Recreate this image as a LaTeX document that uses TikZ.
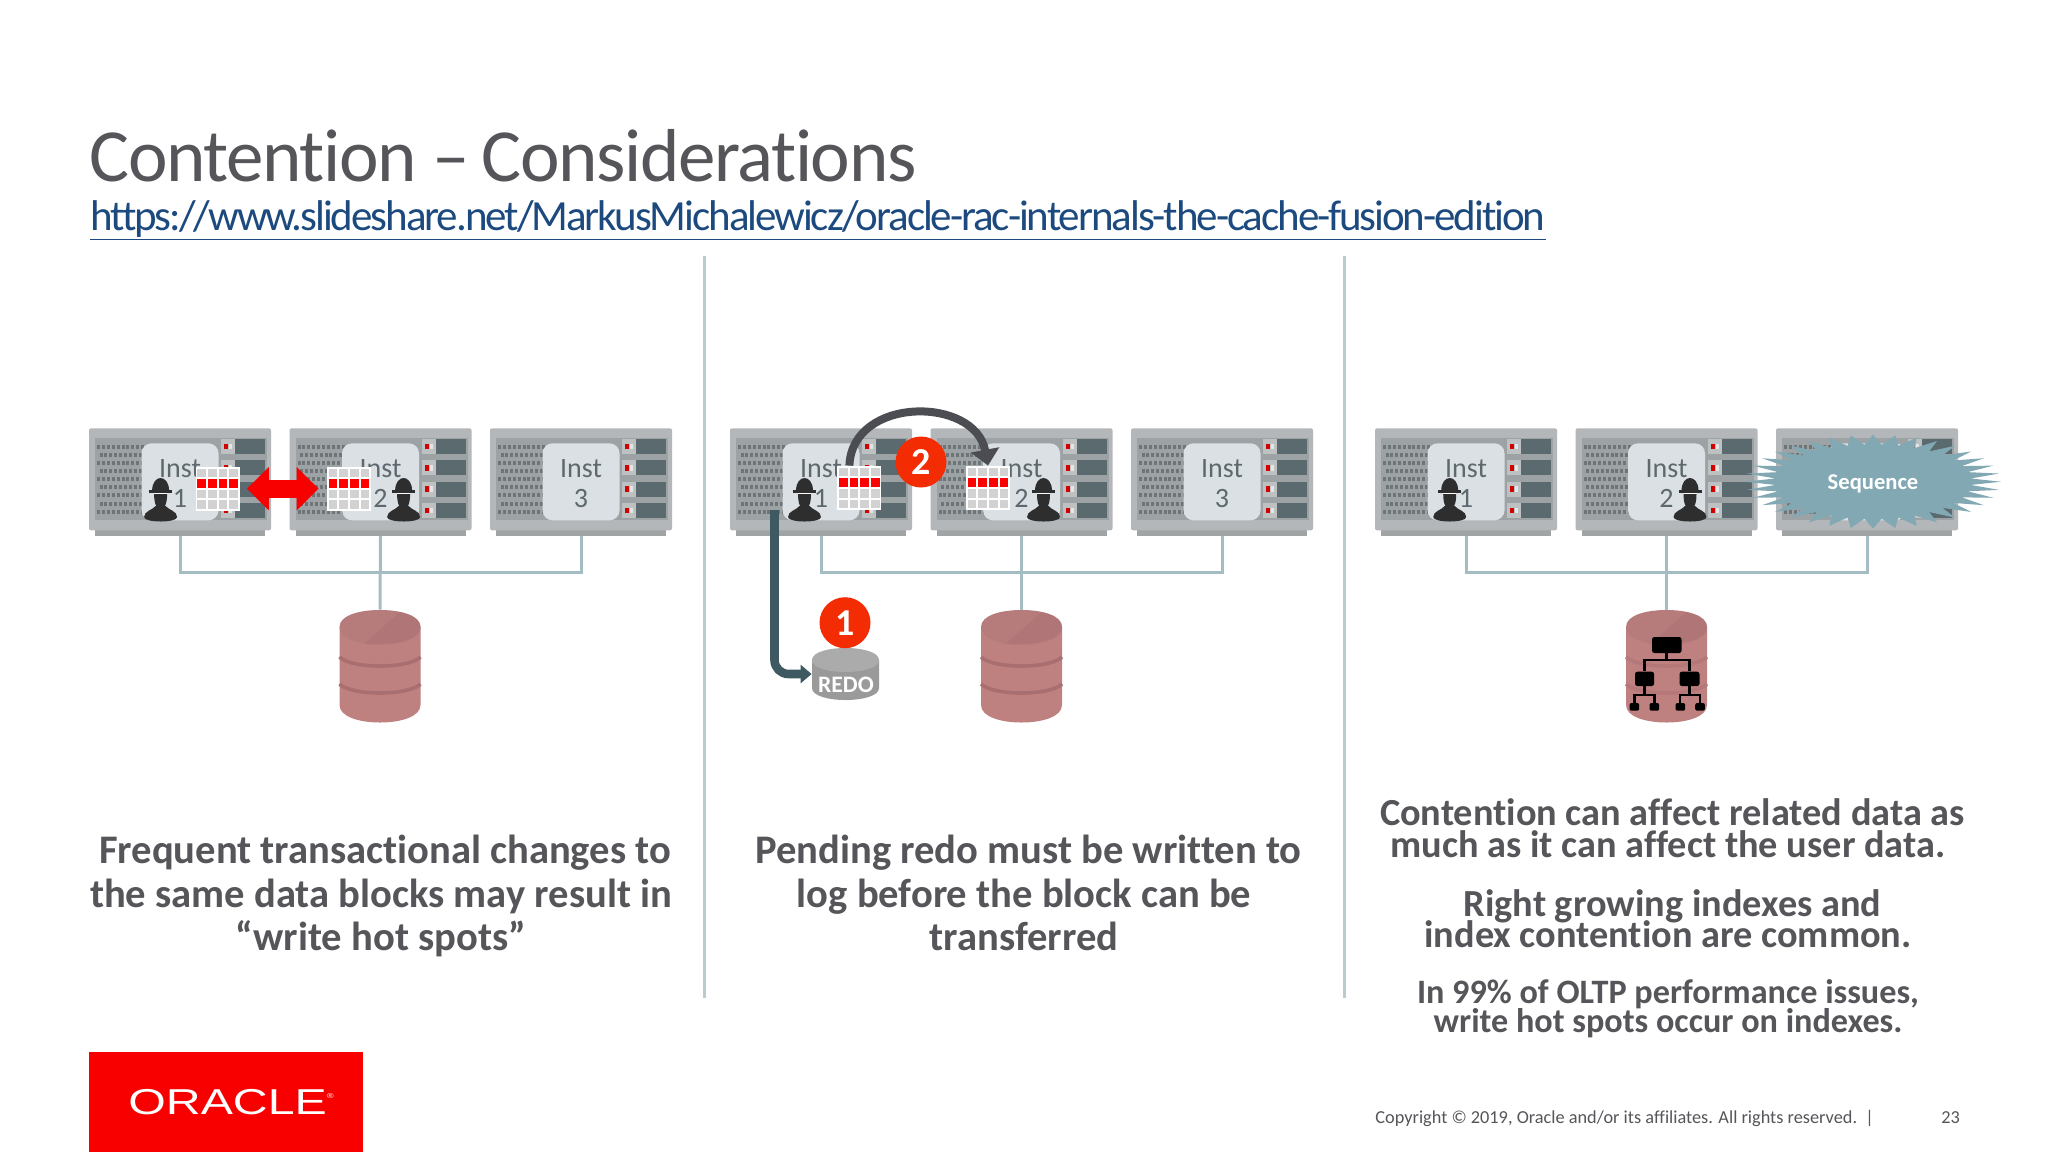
\documentclass[tikz,border=0pt]{standalone}
\usepackage{fontspec}
\setmainfont[Ligatures={TeX,NoCommon}]{Carlito}
\newfontfamily\titlefont[LetterSpace=-1.8,Ligatures=NoCommon]{Carlito}
\newfontfamily\linkfont[LetterSpace=-4.8,Ligatures=NoCommon]{Carlito}
\newfontfamily\logofont[FakeStretch=1.34]{Liberation Sans}
\usetikzlibrary{arrows.meta}
\definecolor{rackgray}{HTML}{B4B7B9}
\definecolor{rackfoot}{HTML}{A0A4A5}
\definecolor{rackinner}{HTML}{9DA2A4}
\definecolor{rackdot}{HTML}{6E7578}
\definecolor{slotlight}{HTML}{BDC1C2}
\definecolor{slotdark}{HTML}{5A6A6F}
\definecolor{instpanel}{HTML}{DAE0E4}
\definecolor{insttext}{HTML}{5E696E}
\definecolor{buscolor}{HTML}{A3BDC3}
\definecolor{dbbody}{HTML}{BF8080}
\definecolor{dbtop}{HTML}{B67B7B}
\definecolor{dbwedge}{HTML}{AC7475}
\definecolor{dbband}{HTML}{A96F70}
\definecolor{orared}{HTML}{F80000}
\definecolor{badgered}{HTML}{F32C04}
\definecolor{bodytext}{HTML}{55555A}
\definecolor{linkblue}{HTML}{1C4A7E}
\definecolor{burstblue}{HTML}{82A8B4}
\definecolor{redogray}{HTML}{9A9A9A}
\definecolor{redolight}{HTML}{ABABAB}
\definecolor{redopipe}{HTML}{3F5963}
\definecolor{hoparc}{HTML}{4B4D52}
\definecolor{cellgray}{HTML}{D2D2D2}
\definecolor{dividerc}{HTML}{B7CDCD}
\tikzset{
  rackbody/.style={fill=rackgray, rounded corners=1pt, minimum width=91pt, minimum height=51pt, inner sep=0pt},
  instbox/.style={fill=instpanel, rounded corners=5pt, minimum width=38.5pt, minimum height=38.5pt, inner sep=0pt},
  insttxt/.style={inner sep=0pt, align=center, text=insttext, font=\fontsize{14}{15}\selectfont},
  blockbox/.style={fill=white, minimum width=22pt, minimum height=22pt, inner sep=0pt},
  dbnode/.style={minimum width=40.5pt, minimum height=56pt, inner sep=0pt},
  badge/.style={circle, fill=badgered, minimum size=25.5pt, inner sep=0pt, text=white, font=\fontsize{19}{19}\selectfont\bfseries},
  buslink/.style={draw=buscolor, line width=1.5pt},
  hotarrow/.style={draw=orared, line width=9pt, {Triangle[length=11pt,width=21pt,fill=orared]}-{Triangle[length=11pt,width=21pt,fill=orared]}, shorten <=3.5pt, shorten >=4pt},
  hoparrow/.style={draw=hoparc, line width=4pt, -{Triangle[length=8pt,width=14pt,fill=hoparc]}},
  redoarrow/.style={draw=redopipe, line width=4.3pt, rounded corners=7pt, -{Triangle[length=5.5pt,width=9pt,fill=redopipe]}},
  headline/.style={anchor=north, text=bodytext, align=center, inner sep=0pt, font=\fontsize{20.3}{21.6}\selectfont\bfseries},
  tightline/.style={anchor=north, text=bodytext, align=center, inner sep=0pt, font=\fontsize{19.15}{#1}\selectfont\bfseries},
  smallline/.style={anchor=north, text=bodytext, align=center, inner sep=0pt, font=\fontsize{17.1}{14.4}\selectfont\bfseries},
}
% rack: name, left edge, label text
\newcommand{\serverrack}[3]{%
  \begin{scope}[shift={(#2,428.3)}]
    \fill[rackfoot] (6,100) rectangle (176,107.5);
    \node[rackbody] (#1) at (91,51) {};
    \fill[rackinner] (6,10) rectangle (178,92);
    \foreach \row in {0,...,8} {
      \pgfmathsetmacro\rowshift{mod(\row,2)*2.5}
      \foreach \col in {0,...,9} {
        \fill[rackdot] ({8+\rowshift+\col*4.9},{16.5+\row*8.1}) rectangle +(3,4);
      }
    }
    \foreach \row in {0,...,3} {
      \fill[slotlight] (132,{10.7+\row*21.3}) rectangle (146,{25.7+\row*21.3});
      \fill[slotdark] (146,{10.7+\row*21.3}) rectangle (176,{25.7+\row*21.3});
      \fill[orared!85!black] (135,{15.5+\row*21.3}) rectangle (139,{21+\row*21.3});
      \fill[white!80!gray] (140,{15.5+\row*21.3}) rectangle (143,{21+\row*21.3});
    }
    \node[instbox] (#1lab) at (91,53.5) {};
    \node[insttxt] (#1txt) at (91,55.5) {#3};
  \end{scope}
}
% worker: centre x, top y
\newcommand{\worker}[2]{%
  \begin{scope}[shift={(#1,#2)}]
    \fill[black!82] (-16.5,39) .. controls (-16.5,33) and (-8,32) .. (-5,28) -- (5,28) .. controls (8,32) and (16.5,33) .. (16.5,39)
      .. controls (16.5,45) and (-16.5,45) .. (-16.5,39) -- cycle;
    \fill[black!82] (-6.5,16) .. controls (-6.5,26) and (-4,31) .. (0,31) .. controls (4,31) and (6.5,26) .. (6.5,16) -- cycle;
    \fill[white] (-6.5,14.5) rectangle (6.5,16.2);
    \fill[black!82] (-8.5,13) .. controls (-8.5,4) and (-4,0) .. (0,0) .. controls (4,0) and (8.5,4) .. (8.5,13) -- cycle;
    \fill[black!82] (-11.5,12.2) rectangle (11.5,14.7);
  \end{scope}
}
% changed block: name, centre x, centre y
\newcommand{\datablock}[3]{%
  \node[blockbox] (#1) at (#2,#3) {};
  \begin{scope}[shift={(#2,#3)}]
    \foreach \row in {0,...,3} {
      \foreach \col in {0,...,3} {
        \ifnum\row=1 \def\cellc{red}\else\def\cellc{cellgray}\fi
        \fill[\cellc] ({-20.2+\col*10.6},{-20.2+\row*10.6}) rectangle +(8.6,8.6);
      }
    }
  \end{scope}
}
% database: name, centre x, band colour
\newcommand{\database}[3]{%
  \node[dbnode] (#1) at (#2,666) {};
  \begin{scope}[shift={(#2,610)}]
    \fill[dbbody] (-40.5,17) -- (-40.5,95) .. controls (-40.5,107) and (-20,112.5) .. (0,112.5)
      .. controls (20,112.5) and (40.5,107) .. (40.5,95) -- (40.5,17) -- cycle;
    \draw[#3, line width=1.8pt] (-40.5,47) .. controls (-28,59) and (28,59) .. (40.5,47);
    \draw[#3, line width=1.8pt] (-40.5,74) .. controls (-28,86) and (28,86) .. (40.5,74);
    \fill[dbtop] (-40.5,17) .. controls (-40.5,5) and (-20,0) .. (0,0) .. controls (20,0) and (40.5,5) .. (40.5,17)
      .. controls (40.5,29) and (20,35) .. (0,35) .. controls (-20,35) and (-40.5,29) .. (-40.5,17) -- cycle;
    \fill[dbwedge, opacity=.6] (20,2) .. controls (32,5) and (40.5,10) .. (40.5,17) .. controls (40.5,29) and (20,35) .. (-16,34) -- cycle;
  \end{scope}
}
\begin{document}
\lineskiplimit=-100pt
\begin{tikzpicture}[x=0.5pt,y=-0.5pt]
\useasboundingbox (0,0) rectangle (2048,1152);
\fill[white] (0,0) rectangle (2048,1152);

% Title and link
\node[anchor=base west, inner sep=0pt, text=bodytext, font=\titlefont\fontsize{37.5}{38}\selectfont] (title) at (89,181) {Contention –\hspace{-2pt} Considerations};
\node[anchor=base west, inner sep=0pt, text=linkblue, font=\linkfont\fontsize{21.5}{22}\selectfont] (link) at (90,230) {\underline{https://www.slideshare.net/MarkusMichalewicz/oracle-rac-internals-the-cache-fusion-edition}};

% Dividers
\coordinate (divAtop) at (704,256);
\coordinate (divAend) at (704,998);
\coordinate (divBtop) at (1344,256);
\coordinate (divBend) at (1344,998);
\draw[dividerc, line width=1.5pt] (divAtop) -- (divAend);
\draw[dividerc, line width=1.5pt] (divBtop) -- (divBend);

% Left panel
\serverrack{rackAa}{89}{Inst\\1}
\serverrack{rackAb}{289.5}{Inst\\2}
\serverrack{rackAc}{490}{Inst\\3}
\database{dbA}{380}{dbband}
\coordinate (busA) at (380,572.7);
\draw[buslink] (rackAa.south |- 0,536) |- (busA);
\draw[buslink] (rackAc.south |- 0,536) |- (busA);
\draw[buslink] (rackAb.south |- 0,536) -- (dbA.north);
\worker{160.6}{478}
\worker{403.6}{478}
\datablock{blockAa}{217.5}{488.7}
\datablock{blockAb}{349}{488.7}
\draw[hotarrow] (blockAa) -- (blockAb);

% Middle panel
\serverrack{rackBa}{730}{Inst\\1}
\serverrack{rackBb}{930.5}{Inst\\2}
\serverrack{rackBc}{1131}{Inst\\3}
\database{dbB}{1021.5}{dbband}
\coordinate (busB) at (1021.5,572.7);
\draw[buslink] (rackBa.south |- 0,536) |- (busB);
\draw[buslink] (rackBc.south |- 0,536) |- (busB);
\draw[buslink] (rackBb.south |- 0,536) -- (dbB.north);
\worker{804.5}{478}
\worker{1043.5}{478}
\datablock{blockBa}{859.4}{488}
\datablock{blockBb}{988}{488}
\draw[hoparrow] ([xshift=-5pt]blockBa.north) .. controls (852,396) and (975,396) .. (blockBb.north);
\node[badge] (badgeTwo) at (921,462) {2};
% redo log
\node[minimum width=33.5pt, minimum height=26pt, inner sep=0pt] (redo) at (845.5,674) {};
\fill[redogray] (812,660) -- (812,688) .. controls (812,704) and (879,704) .. (879,688) -- (879,660) -- cycle;
\fill[redolight] (812,660) .. controls (812,644) and (879,644) .. (879,660) .. controls (879,676) and (812,676) .. (812,660) -- cycle;
\node[text=white, inner sep=0pt, font=\fontsize{11.8}{12}\selectfont\bfseries] (redotxt) at (846,685) {REDO};
\coordinate (redoStart) at (774.5,510);
\draw[redoarrow] (redoStart) |- (redo.west);
\node[badge] (badgeOne) at (845,622.7) {1};

% Right panel
\serverrack{rackCa}{1375}{Inst\\1}
\serverrack{rackCb}{1575.5}{Inst\\2}
\serverrack{rackCc}{1776}{}
\database{dbC}{1666.5}{dbband!45!dbbody}
\coordinate (busC) at (1666.5,572.7);
\draw[buslink] (rackCa.south |- 0,536) |- (busC);
\draw[buslink] (rackCc.south |- 0,536) |- (busC);
\draw[buslink] (rackCb.south |- 0,536) -- (dbC.north);
\worker{1449.7}{478}
\worker{1690}{478}
% sequence burst
\begin{scope}[shift={(1873,481.7)}]
\fill[burstblue] (0:128 and 47)
  \foreach \ang in {0,10,...,350} {
    -- (\ang+5:98 and 37) -- (\ang+10:128 and 47)
  } -- cycle;
\node[text=white, inner sep=0pt, font=\fontsize{11.3}{12}\selectfont\bfseries] (seq) at (0,2.5) {Sequence};
\end{scope}
% index tree
\begin{scope}[black, shift={(-2.5,0)}]
\draw[line width=1.2pt] (1669,653) -- (1669,660) (1647,671) |- (1692,660) -- (1692,671);
\draw[line width=1.2pt] (1647,686) -- (1647,695) (1637,703) |- (1657,695) -- (1657,703);
\draw[line width=1.2pt] (1692,686) -- (1692,695) (1682.5,703) |- (1702.5,695) -- (1702.5,703);
\fill[rounded corners=1.2pt] (1654.5,637) rectangle (1684,653);
\fill[rounded corners=1.2pt] (1637.5,671.7) rectangle (1656.6,686);
\fill[rounded corners=1.2pt] (1682,671.7) rectangle (1702,686);
\foreach \leaf in {1632,1652,1678,1697.7} {
  \fill[rounded corners=1pt] (\leaf,703) rectangle +(9.7,7.7);
}
\end{scope}

% Captions
\node[headline] (txtA) at (381,835) {\hspace*{4pt}Frequent transactional changes to\\the same data blocks may result in\\“write hot spots”};
\node[headline] (txtB) at (1024,835) {\hspace*{4.5pt}Pending redo must be written to\\log before the block can be\\transferred};
\node[tightline=16.3] (txtCa) at (1668,798) {\hspace*{4.4pt}Contention can affect related data as\\much as it can affect the user data.};
\node[tightline=15.7] (txtCb) at (1668,889) {\hspace*{4.4pt}Right growing indexes and\\index contention are common.};
\node[smallline] (txtCc) at (1668,979) {In 99\% of OLTP performance issues,\\write hot spots occur on indexes.};

% Footer
\fill[orared] (89,1052) rectangle (363,1152);
\node[text=white, inner sep=0pt, anchor=base west, font=\logofont\fontsize{18}{18}\selectfont] (logo) at (128,1114.5) {ORACLE\raisebox{8pt}{\fontsize{3.5}{4}\selectfont\textregistered}};
\node[anchor=base west, inner sep=0pt, text=bodytext, font=\fontsize{9.15}{10}\selectfont] (copy) at (1375,1123) {Copyright © 2019, Oracle and/or its affiliates. All rights reserved.~~|};
\node[anchor=base west, inner sep=0pt, text=bodytext, font=\fontsize{9.15}{10}\selectfont] (pageno) at (1941,1123) {23};
\end{tikzpicture}
\end{document}
